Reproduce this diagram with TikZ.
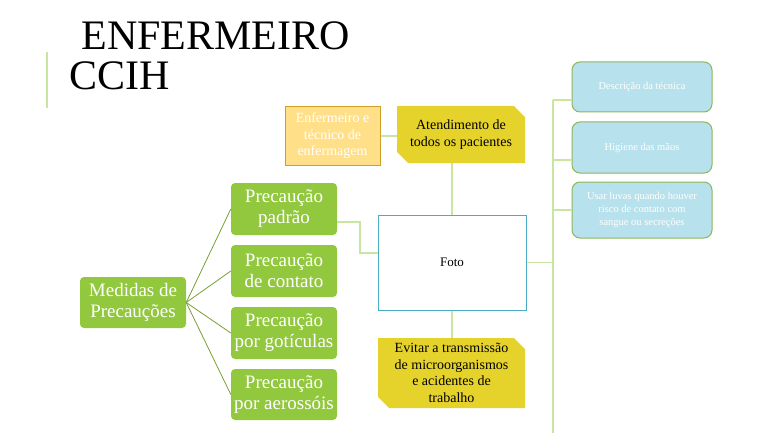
\documentclass[tikz,border=0pt]{standalone}
\usepackage{fontspec}
\setmainfont{Liberation Serif}
\usetikzlibrary{shapes.misc}
\definecolor{grn}{HTML}{92C83E}
\definecolor{lgrn}{HTML}{C8E6A0}
\definecolor{ylw}{HTML}{E5D22B}
\definecolor{org}{HTML}{FFDF87}
\definecolor{orgb}{HTML}{C9A227}
\definecolor{blu}{HTML}{B7E1EC}
\definecolor{blub}{HTML}{8DB65A}
\definecolor{fotob}{HTML}{4BACC6}
\begin{document}
\begin{tikzpicture}[x=1pt,y=-1pt,
 gbox/.style={fill=grn,rounded corners=4pt,text=white,align=center,font=\fontsize{19}{21}\selectfont,minimum width=106pt,inner sep=0pt},
 bbox/.style={fill=blu,draw=blub,line width=1pt,rounded corners=8pt,text=white,align=center,font=\fontsize{10.5}{13}\selectfont,minimum width=140pt,inner sep=0pt},
 ybox/.style={fill=ylw,chamfered rectangle,chamfered rectangle corners={north east,south west},chamfered rectangle xsep=8pt,align=center,font=\fontsize{14}{16.5}\selectfont,inner sep=0pt},
 gl/.style={draw=grn!80!black,line width=0.8pt},
 ll/.style={draw=lgrn,line width=1.3pt}]
\useasboundingbox (0,0) rectangle (768,433);
\node[anchor=west,font=\fontsize{42}{42}\selectfont] (t1) at (78,36) {ENFERMEIRO};
\node[anchor=west,font=\fontsize{42}{42}\selectfont] (t2) at (66,76) {CCIH};
\draw[lgrn,line width=1.3pt] (47,52) -- (47,108);
% orange and yellow
\node[fill=org,draw=orgb,line width=1pt,minimum width=95pt,minimum height=58pt,text=white,align=center,font=\fontsize{14}{16.5}\selectfont,inner sep=0pt] (o) at (332.5,136) {Enfermeiro e\\técnico de\\enfermagem};
\node[ybox,minimum width=128pt,minimum height=57pt] (y1) at (461,134.5) {Atendimento de\\todos os pacientes};
\node[draw=fotob,line width=1pt,minimum width=148pt,minimum height=95pt,font=\fontsize{13}{15}\selectfont] (f) at (452,262.5) {Foto};
\node[ybox,minimum width=147pt,minimum height=70pt] (y2) at (451.5,373) {Evitar a transmissão\\de microorganismos\\e acidentes de\\trabalho};
\draw[ll] (o.east) -- (o.east -| y1.west);
\draw[ll] (452,163) -- (f.north);
\draw[ll] (f.south) -- (452,338);
% blue
\node[bbox,minimum height=50pt] (b1) at (642,87) {Descrição da técnica};
\node[bbox,minimum height=51pt] (b2) at (642,147.5) {Higiene das mãos};
\node[bbox,minimum height=56pt] (b3) at (642,210) {Usar luvas quando houver\\risco de contato com\\sangue ou secreções};
\coordinate (v1) at (553,100);
\coordinate (v2) at (553,433);
\draw[ll] (v1) -- (v2);
\draw[ll] (v1) -- (b1.west |- v1);
\draw[ll] (553,160) -- (b2.west |- 0,160);
\draw[ll] (553,210) -- (b3.west);
\draw[ll] (f.east) -- (553,262.5);
% green
\node[gbox,minimum height=51pt] (m) at (133,302.5) {Medidas de\\Precauções};
\node[gbox,minimum height=52pt] (p1) at (284,209) {Precaução\\padrão};
\node[gbox,minimum height=52pt] (p2) at (284,271) {Precaução\\de contato};
\node[gbox,minimum height=52pt] (p3) at (284,333) {Precaução\\por gotículas};
\node[gbox,minimum height=51pt] (p4) at (284,394.5) {Precaução\\por aerossóis};
\foreach \p in {p1,p2,p3,p4} \draw[gl] (m.east) -- (\p.west);
\draw[ll] (p1.east |- 0,222) -- (360,222) -- (360,253) -- (f.west |- 0,253);
\end{tikzpicture}
\end{document}
